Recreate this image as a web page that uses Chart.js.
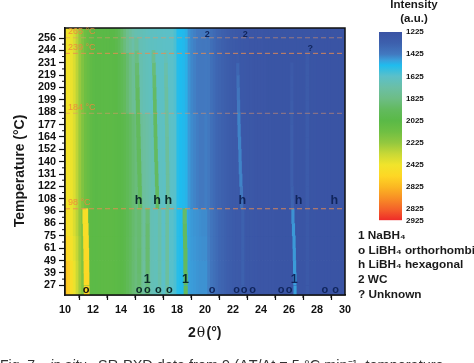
<!DOCTYPE html>
<html>
<head>
<meta charset="utf-8">
<script src="https://cdn.jsdelivr.net/npm/chart.js@4/dist/chart.umd.min.js"></script>
<style>
html, body { margin: 0; padding: 0; background: #fff; overflow: hidden; }
#wrap { position: relative; width: 474px; height: 363px; overflow: hidden; }
canvas { position: absolute; filter: blur(0.5px); }
#heatChart { left: 0; top: 0; }
#barChart { left: 370px; top: 20px; }
</style>
</head>
<body>
<div id="wrap">
  <canvas id="heatChart" width="474" height="363"></canvas>
  <canvas id="barChart" width="104" height="215"></canvas>
</div>
<script>
// temperature tick labels, bottom to top, evenly spaced on the axis
var tempLabels = ['27','39','49','61','75','86','96','108','122','131','140','152','164','177','188','199','209','219','231','244','256'];

// left edge of every 2theta column
var thetaColumns = [
  10.0,10.2,10.4,10.6,10.8,11.0,11.2,11.4,11.6,11.8,
  12.0,12.2,12.4,12.6,12.8,13.0,13.2,13.4,13.6,13.8,
  14.0,14.2,14.4,14.6,14.8,15.0,15.2,15.4,15.6,15.8,
  16.0,16.2,16.4,16.6,16.8,17.0,17.2,17.4,17.6,17.8,
  18.0,18.2,18.4,18.6,18.8,19.0,19.2,19.4,19.6,19.8,
  20.0,20.2,20.4,20.6,20.8,21.0,21.2,21.4,21.6,21.8,
  22.0,22.2,22.4,22.6,22.8,23.0,23.2,23.4,23.6,23.8,
  24.0,24.2,24.4,24.6,24.8,25.0,25.2,25.4,25.6,25.8,
  26.0,26.2,26.4,26.6,26.8,27.0,27.2,27.4,27.6,27.8,
  28.0,28.2,28.4,28.6,28.8,29.0,29.2,29.4,29.6,29.8
];

// background intensity bands, position on the temperature axis in tick units
var bandLow  = [18.8, 13.9, 6.2, 4.0, 2.0, -1];
var bandHigh = [21.0, 18.8, 13.9, 6.2, 4.0, 2.0];

var bandTop = [
  2430,2425,2405,2365,2295,2225,2165,2115,2080,2050,
  2030,2030,2030,2030,2030,2030,2025,2020,2000,1960,
  1900,1850,1800,1760,1720,1700,1690,1680,1670,1660,
  1650,1650,1645,1640,1640,1635,1630,1630,1625,1600,
  1530,1525,1520,1505,1460,1445,1435,1425,1420,1415,
  1420,1415,1385,1365,1345,1335,1325,1310,1295,1285,
  1275,1270,1265,1260,1255,1255,1250,1250,1245,1245,
  1245,1240,1240,1240,1240,1240,1240,1240,1240,1240,
  1240,1240,1240,1240,1240,1240,1240,1240,1240,1240,
  1235,1235,1235,1235,1235,1230,1230,1230,1230,1230
];
var bandUpper = [
  2435,2430,2410,2370,2300,2230,2170,2120,2085,2055,
  2035,2030,2030,2035,2035,2035,2035,2030,2025,2000,
  1970,1930,1880,1830,1780,1750,1720,1700,1680,1670,
  1660,1655,1650,1645,1640,1640,1635,1630,1625,1610,
  1535,1525,1520,1505,1465,1445,1435,1425,1420,1420,
  1425,1420,1390,1370,1350,1340,1330,1315,1300,1290,
  1280,1275,1270,1265,1260,1255,1255,1250,1250,1250,
  1245,1245,1240,1240,1240,1240,1240,1240,1240,1240,
  1240,1240,1240,1240,1240,1240,1240,1240,1240,1240,
  1235,1235,1235,1235,1235,1230,1230,1230,1230,1230
];
var bandMiddle = [
  2440,2435,2415,2375,2305,2235,2170,2120,2085,2055,
  2035,2030,2035,2040,2040,2040,2040,2035,2030,2025,
  2010,1990,1960,1920,1880,1850,1800,1770,1750,1730,
  1710,1690,1680,1660,1650,1640,1630,1640,1630,1620,
  1540,1525,1520,1510,1470,1450,1440,1430,1420,1420,
  1430,1420,1390,1370,1350,1340,1330,1320,1300,1290,
  1280,1275,1270,1265,1260,1260,1260,1255,1250,1250,
  1250,1245,1245,1245,1240,1240,1240,1240,1240,1240,
  1240,1240,1240,1240,1240,1240,1240,1240,1240,1240,
  1235,1235,1235,1235,1235,1230,1230,1230,1230,1230
];
var bandLower = [
  2470,2450,2420,2370,2300,2225,2165,2115,2070,2040,
  2035,2035,2040,2045,2045,2045,2045,2040,2035,2030,
  2020,2000,1970,1930,1890,1860,1820,1790,1760,1730,
  1700,1680,1670,1650,1640,1630,1620,1620,1620,1600,
  1540,1530,1520,1510,1480,1470,1465,1460,1455,1450,
  1450,1430,1410,1390,1370,1350,1340,1330,1310,1300,
  1290,1280,1275,1270,1265,1260,1260,1255,1255,1250,
  1250,1250,1245,1245,1245,1240,1240,1240,1240,1240,
  1240,1240,1240,1240,1240,1240,1240,1240,1240,1240,
  1235,1235,1235,1235,1235,1230,1230,1230,1230,1230
];
var bandLowMid = [
  2530,2500,2450,2390,2320,2240,2170,2110,2065,2040,
  2035,2035,2040,2045,2045,2045,2045,2040,2035,2030,
  2020,2000,1965,1925,1885,1855,1815,1785,1755,1725,
  1700,1680,1670,1650,1640,1630,1620,1620,1620,1600,
  1540,1530,1520,1510,1480,1472,1468,1462,1458,1455,
  1455,1432,1410,1390,1370,1350,1340,1330,1310,1300,
  1290,1282,1278,1272,1268,1262,1260,1255,1255,1250,
  1250,1250,1245,1245,1245,1240,1240,1240,1240,1240,
  1240,1240,1240,1240,1240,1240,1240,1240,1240,1240,
  1235,1235,1235,1235,1235,1230,1230,1230,1230,1230
];
var bandBottom = [
  2590,2550,2480,2410,2330,2250,2170,2110,2060,2040,
  2035,2035,2040,2045,2045,2045,2045,2040,2035,2030,
  2020,2000,1960,1920,1880,1850,1810,1780,1750,1720,
  1700,1680,1670,1650,1640,1630,1620,1620,1620,1600,
  1540,1530,1520,1510,1480,1475,1470,1465,1460,1460,
  1460,1435,1410,1390,1370,1350,1340,1330,1310,1300,
  1290,1285,1280,1275,1270,1265,1260,1255,1255,1250,
  1250,1250,1245,1245,1245,1240,1240,1240,1240,1240,
  1240,1240,1240,1240,1240,1240,1240,1240,1240,1240,
  1235,1235,1235,1235,1235,1230,1230,1230,1230,1230
];
var bands = [bandTop, bandUpper, bandMiddle, bandLower, bandLowMid, bandBottom];

// diffraction lines, one slot per temperature step from the bottom up
var stepLow  = [-1,0,1,2,3,4,5,6.2,7,8,9,10,11,12,13,14,15,16,17,18,19,20];
var stepHigh = [0,1,2,3,4,5,6.2,7,8,9,10,11,12,13,14,15,16,17,18,19,20,21];

var lineATheta = [11.55,11.54,11.53,11.52,11.5,11.48,11.45,null,null,null,null,null,null,null,null,null,null,null,null,null,null,null];
var lineALevel = [2530,2520,2510,2500,2490,2480,2470,null,null,null,null,null,null,null,null,null,null,null,null,null,null,null];
var lineBTheta = [15.3,15.3,15.3,15.3,15.3,15.3,15.3,15.36,15.34,15.32,15.3,15.28,15.26,15.24,15.22,15.2,15.18,15.16,15.14,15.12,15.1,null];
var lineBLevel = [1880,1880,1890,1890,1880,1880,1880,1920,1930,1930,1930,1930,1930,1930,1930,1920,1920,1900,1880,1840,1770,null];
var lineCTheta = [15.9,15.9,15.9,15.9,15.9,15.9,15.9,null,null,null,null,null,null,null,null,null,null,null,null,null,null,null];
var lineCLevel = [1860,1860,1880,1880,1880,1880,1860,null,null,null,null,null,null,null,null,null,null,null,null,null,null,null];
var lineDTheta = [16.75,16.75,16.75,16.75,16.75,16.75,16.75,16.6,16.58,16.55,16.53,16.5,16.48,16.46,16.44,16.42,16.4,16.38,16.35,16.32,null,null];
var lineDLevel = [1720,1720,1720,1720,1720,1720,1720,1920,1920,1920,1920,1920,1920,1920,1920,1910,1910,1890,1860,1790,null,null];
var lineFTheta = [17.3,17.3,17.3,17.3,17.3,17.3,17.3,17.35,17.34,17.33,17.32,17.3,17.29,17.28,17.26,17.25,17.24,17.22,17.21,17.2,null,null];
var lineFLevel = [1750,1750,1750,1750,1750,1750,1750,1760,1760,1760,1760,1760,1760,1750,1750,1750,1740,1730,1710,1680,null,null];
var lineGTheta = [18.62,18.62,18.6,18.6,18.58,18.56,18.55,null,null,null,null,null,null,null,null,null,null,null,null,null,null,null];
var lineGLevel = [1920,1920,1920,1920,1920,1920,1900,null,null,null,null,null,null,null,null,null,null,null,null,null,null,null];
var lineHTheta = [22.7,22.7,22.7,22.7,22.7,22.7,22.7,22.62,22.6,22.56,22.52,22.5,22.47,22.44,22.42,22.4,22.38,22.36,22.34,22.33,null,null];
var lineHLevel = [1330,1330,1330,1330,1330,1330,1330,1390,1420,1440,1440,1440,1440,1440,1440,1420,1410,1390,1350,1290,null,null];
var lineITheta = [26.43,26.42,26.4,26.38,26.36,26.32,26.28,26.24,26.22,26.2,26.2,26.2,26.2,26.2,26.2,26.2,26.2,26.2,26.2,null,null,null];
var lineILevel = [1480,1480,1475,1470,1470,1470,1460,1340,1330,1320,1320,1320,1310,1310,1300,1300,1290,1290,1280,null,null,null];
var lineJTheta = [27.3,27.3,27.3,27.3,27.3,27.3,27.3,27.3,27.3,27.3,27.3,27.3,27.3,27.3,27.3,27.3,27.3,27.3,27.3,27.3,null,null];
var lineJLevel = [1270,1270,1270,1270,1270,1270,1270,1290,1290,1290,1290,1290,1290,1290,1290,1290,1285,1285,1285,1275,null,null];

// dashed reaction temperatures
var eventText = ['265 °C','239 °C','184 °C','98 °C'];
var eventRow  = [20.02, 18.76, 13.91, 6.19];

// phase marks on the map
var markText  = ['o','o','o','o','o','o','o','o','o','o','o','o','o','1','1','1','h','h','h','h','h','h','2','2','?'];
var markTheta = [11.5,15.3,15.88,16.67,17.45,20.5,22.26,22.8,23.4,25.43,26.0,28.57,29.33,15.88,18.6,26.38,15.26,16.57,17.38,22.66,26.69,29.24,20.16,22.88,27.52];
var markRow   = [-0.38,-0.38,-0.38,-0.38,-0.38,-0.38,-0.38,-0.38,-0.38,-0.38,-0.38,-0.38,-0.38,0.48,0.48,0.48,6.84,6.84,6.84,6.84,6.84,6.84,20.3,20.3,19.17];

var legendLines = ['1 NaBH₄','o LiBH₄ orthorhombic','h LiBH₄ hexagonal','2 WC','? Unknown'];

// colour bar
var colorbarTicks  = [1225,1425,1625,1825,2025,2225,2425,2625,2825,2925];
var colorbarLabels = ['1225','1425','1625','1825','2025','2225','2425','2825','2825','2925'];

var colorStops = [
  [1225,'#3a53a4'],[1325,'#3d60ad'],[1425,'#4279c0'],[1480,'#3aa0dc'],[1525,'#1fbcee'],
  [1625,'#5bc0c9'],[1725,'#6bbfa6'],[1825,'#6dbd86'],[1925,'#62ba5e'],[2025,'#5ab947'],
  [2125,'#6fbf43'],[2225,'#93c83f'],[2325,'#c8d836'],[2425,'#f1e42b'],[2525,'#fed725'],
  [2625,'#fbb722'],[2725,'#f88f25'],[2825,'#f4622a'],[2925,'#ee2b29']
];

function hexPart(hex, i) { return parseInt(hex.substr(1 + i * 2, 2), 16); }

function colorFor(v) {
  for (var i = 1; i < colorStops.length; i++) {
    if (v <= colorStops[i][0]) {
      var a = colorStops[i - 1], b = colorStops[i];
      var t = (v - a[0]) / (b[0] - a[0]);
      var c = [0, 1, 2].map(function (k) {
        return Math.round(hexPart(a[1], k) + (hexPart(b[1], k) - hexPart(a[1], k)) * t);
      });
      return 'rgb(' + c.join(',') + ')';
    }
  }
  return colorStops[colorStops.length - 1][1];
}

var datasets = [];

// background first in the list but drawn underneath, order decides that
bands.forEach(function (values, r) {
  datasets.push({
    type: 'bar', grouped: false, order: 3, barThickness: 3.3, borderWidth: 0,
    backgroundColor: values.map(colorFor),
    data: values.map(function (v, i) {
      return { x: thetaColumns[i] + 0.1, y: [bandLow[r], bandHigh[r]] };
    })
  });
});

function addLine(thetas, levels, thickness) {
  var pts = [], cols = [];
  thetas.forEach(function (t, i) {
    if (t === null) return;
    pts.push({ x: t, y: [stepLow[i], stepHigh[i]] });
    cols.push(colorFor(levels[i]));
  });
  datasets.push({ type: 'bar', grouped: false, order: 2, barThickness: thickness, borderWidth: 0, backgroundColor: cols, data: pts });
}
addLine(lineATheta, lineALevel, 5);
addLine(lineBTheta, lineBLevel, 3.5);
addLine(lineCTheta, lineCLevel, 3.5);
addLine(lineDTheta, lineDLevel, 3);
addLine(lineFTheta, lineFLevel, 3);
addLine(lineGTheta, lineGLevel, 3.5);
addLine(lineHTheta, lineHLevel, 2.5);
addLine(lineITheta, lineILevel, 2.5);
addLine(lineJTheta, lineJLevel, 3);

eventRow.forEach(function (row, i) {
  datasets.push({
    type: 'line', order: 1, borderColor: (i === 0 || i === 2) ? 'rgba(232,150,100,0.55)' : 'rgba(235,140,80,0.85)',
    borderWidth: 1, borderDash: [5, 3], pointRadius: 0, fill: false,
    data: [{ x: 10, y: row }, { x: 30, y: row }]
  });
});

function inkFor(theta) {
  if (theta < 15) return '#111';
  if (theta < 19) return '#0b2b2b';
  return '#10255c';
}

var annotations = {
  id: 'annotations',
  afterDraw: function (chart) {
    var c = chart.ctx, x = chart.scales.x, y = chart.scales.y, a = chart.chartArea;
    c.save();
    // frame and the short minor ticks
    c.strokeStyle = '#111';
    c.lineWidth = 1.5;
    c.strokeRect(a.left, a.top, a.right - a.left, a.bottom - a.top);
    c.lineWidth = 1;
    c.beginPath();
    for (var i = 0; i < tempLabels.length - 1; i++) {
      var py = y.getPixelForValue(i + 0.5);
      c.moveTo(a.left - 3, py); c.lineTo(a.left, py);
    }
    for (var v = 11; v < 30; v += 2) {
      var px = x.getPixelForValue(v);
      c.moveTo(px, a.bottom); c.lineTo(px, a.bottom + 3);
    }
    c.stroke();

    c.textBaseline = 'middle';
    // reaction temperatures
    c.font = '9px "Liberation Sans"';
    c.fillStyle = 'rgba(238,135,60,0.9)';
    c.textAlign = 'left';
    var eventY = [32, 48, 107.7, 202.7];
    eventText.forEach(function (t, i) { c.fillText(t, 68, eventY[i]); });

    // phase marks
    c.textAlign = 'center';
    markText.forEach(function (t, i) {
      var size = (t === '2' || t === '?') ? 9 : (t === 'o' ? 11 : 12.5);
      c.font = 'bold ' + size + 'px "Liberation Sans"';
      c.fillStyle = inkFor(markTheta[i]);
      c.fillText(t, x.getPixelForValue(markTheta[i]), y.getPixelForValue(markRow[i]));
    });

    // axis titles
    c.fillStyle = '#1a1a1a';
    c.font = 'bold 14px "Liberation Sans"';
    c.fillText('2', 192, 333);
    c.font = '14px "DejaVu Serif"';
    c.fillText('θ', 201, 333);
    c.font = 'bold 14px "Liberation Sans"';
    c.fillText('(°)', 214, 333);
    c.save();
    c.translate(20, 171);
    c.rotate(-Math.PI / 2);
    c.fillText('Temperature (°C)', 0, 0);
    c.restore();

    // colour bar heading
    c.font = 'bold 11.5px "Liberation Sans"';
    c.fillText('Intensity', 414, 5);
    c.fillText('(a.u.)', 414, 19);

    // phase key, runs off the right edge like the figure does
    c.textAlign = 'left';
    c.font = 'bold 11.8px "Liberation Sans"';
    var keyY = [235.7, 250.7, 265, 280, 295];
    legendLines.forEach(function (t, i) { c.fillText(t, 358, keyY[i]); });

    // caption, cut by the bottom of the picture
    c.textBaseline = 'alphabetic';
    c.fillStyle = '#333';
    c.font = '14px "Liberation Sans"';
    c.fillText('Fig. 7', 0, 370);
    c.font = 'italic 14px "Liberation Sans"';
    c.fillText('in situ', 50, 370);
    c.font = '14.5px "Liberation Sans"';
    c.fillText('SR-PXD data from 9 (ΔT/Δt = 5 °C min⁻¹, temperature', 98, 370);
    c.restore();
  }
};

var heatChart = new Chart(document.getElementById('heatChart').getContext('2d'), {
  type: 'bar',
  data: { datasets: datasets },
  plugins: [annotations],
  options: {
    responsive: false,
    animation: false,
    layout: { padding: { top: 28, right: 129, left: 0, bottom: 0 } },
    plugins: { legend: { display: false }, tooltip: { enabled: false } },
    scales: {
      x: {
        type: 'linear', min: 10, max: 30, offset: false,
        afterFit: function (s) { s.height = 68; },
        border: { color: '#111', width: 1.5 },
        grid: { drawOnChartArea: false, tickLength: 5, tickColor: '#111', tickWidth: 1.2 },
        ticks: { stepSize: 2, autoSkip: false, maxRotation: 0, padding: 4, color: '#111', font: { family: 'Liberation Sans', size: 10.8, weight: 'bold' } }
      },
      y: {
        type: 'linear', min: -0.785, max: 20.81,
        afterFit: function (s) { s.width = 65; },
        afterBuildTicks: function (s) { s.ticks = tempLabels.map(function (t, i) { return { value: i }; }); },
        border: { color: '#111', width: 1.5 },
        grid: { drawOnChartArea: false, tickLength: 6, tickColor: '#111', tickWidth: 1.2 },
        ticks: {
          autoSkip: false, padding: 3, color: '#111',
          font: { family: 'Liberation Sans', size: 10.8, weight: 'bold' },
          callback: function (value) { return tempLabels[value]; }
        }
      }
    }
  }
});

var barChart = new Chart(document.getElementById('barChart').getContext('2d'), {
  type: 'bar',
  data: {
    labels: ['intensity'],
    datasets: [{
      data: [[1225, 2925]],
      borderWidth: 0,
      barPercentage: 1,
      categoryPercentage: 1,
      backgroundColor: function (ctx) {
        var a = ctx.chart.chartArea;
        if (!a) return '#3a53a4';
        var g = ctx.chart.ctx.createLinearGradient(0, a.top, 0, a.bottom);
        colorStops.forEach(function (s) { g.addColorStop((s[0] - 1225) / 1700, s[1]); });
        return g;
      }
    }]
  },
  options: {
    responsive: false,
    animation: false,
    layout: { padding: { top: 12, left: 9, bottom: 14.7, right: 0 } },
    plugins: { legend: { display: false }, tooltip: { enabled: false } },
    scales: {
      x: { display: false },
      y: {
        position: 'right', reverse: true, min: 1225, max: 2925,
        afterFit: function (s) { s.width = 72; },
        afterBuildTicks: function (s) { s.ticks = colorbarTicks.map(function (v) { return { value: v }; }); },
        border: { display: false },
        grid: { display: false, drawTicks: false },
        ticks: {
          autoSkip: false, padding: 4, color: '#111',
          font: { family: 'Liberation Sans', size: 8, weight: 'bold' },
          callback: function (value, i) { return colorbarLabels[i]; }
        }
      }
    }
  }
});
</script>
</body>
</html>
